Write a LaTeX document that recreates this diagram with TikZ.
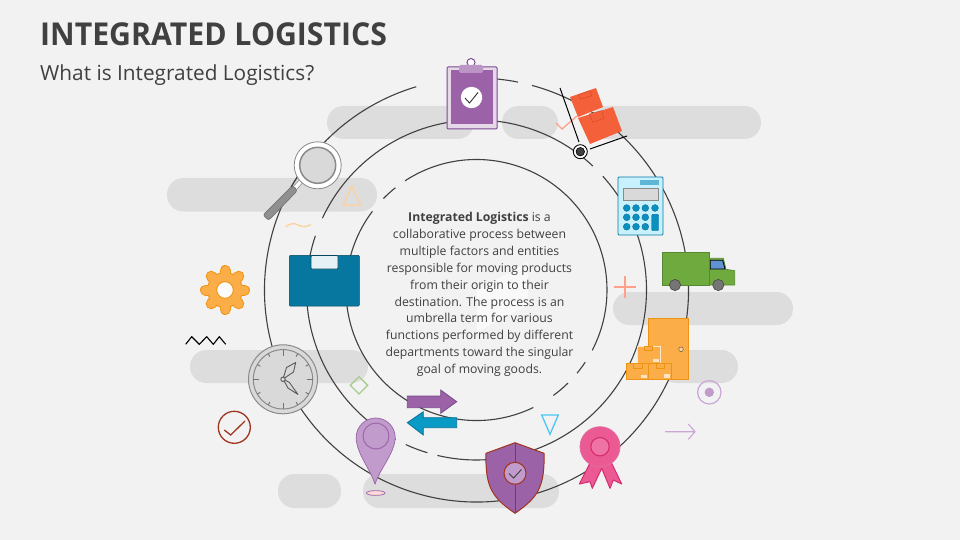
\documentclass[tikz,border=0pt]{standalone}
\usepackage{fontspec}
\setmainfont{Open Sans}
\newfontfamily\ttlfont[FakeStretch=0.96]{Open Sans}
\definecolor{bgc}{HTML}{F2F2F2}
\definecolor{pill}{HTML}{DDDDDD}
\definecolor{ringc}{HTML}{404040}
\definecolor{txt}{HTML}{404040}
\definecolor{purp}{HTML}{9B62A8}
\definecolor{purpd}{HTML}{7B4A8F}
\definecolor{lilac}{HTML}{C09BCB}
\definecolor{lilacl}{HTML}{C9A6D6}
\definecolor{salmon}{HTML}{FFA08A}
\definecolor{red1}{HTML}{F4603A}
\definecolor{red2}{HTML}{D84A2B}
\definecolor{calcbg}{HTML}{C8F0FD}
\definecolor{calcd}{HTML}{0A8FC0}
\definecolor{green1}{HTML}{6FAA3F}
\definecolor{green2}{HTML}{568A32}
\definecolor{orange1}{HTML}{FBAE47}
\definecolor{orange2}{HTML}{EE9414}
\definecolor{pale}{HTML}{FBD29F}
\definecolor{pink1}{HTML}{EC5A94}
\definecolor{pink2}{HTML}{D42C72}
\definecolor{brownr}{HTML}{A0341E}
\definecolor{teal1}{HTML}{07779F}
\definecolor{grey1}{HTML}{D9D9D9}
\definecolor{grey2}{HTML}{8A8A8A}
\tikzset{
  ring/.style={draw=ringc,line width=1.1pt},
  pillbox/.style={fill=pill,rounded corners=16.5pt},
  deco/.style={line width=1.3pt,line join=miter,fill=none},
  btn/.style={fill=calcd,draw=calcd!80!black,line width=.4pt},
}
\newcommand{\darc}[3]{\draw[ring] ([shift={(476.5,290)}]#2:#1) arc[start angle=#2,end angle=#3,radius=#1];}
\begin{document}
\begin{tikzpicture}[x=1pt,y=-1pt,line cap=butt]
\useasboundingbox (0,0) rectangle (960,540);
\fill[bgc] (0,0) rectangle (960,540);
% pills
\fill[pillbox] (327,106) rectangle (474,139);
\fill[pillbox] (502,106) rectangle (558,139);
\fill[pillbox] (590,106) rectangle (761,139);
\fill[pillbox] (167,178) rectangle (377,211.5);
\fill[pillbox] (613,292) rectangle (793,325);
\fill[pillbox] (190,350) rectangle (368,383);
\fill[pillbox] (660,350) rectangle (738,383);
\fill[pillbox] (278,474) rectangle (341,508);
\fill[pillbox] (363,474) rectangle (559,508);
% watermark
\fill[white,opacity=.55] (477,290) -- (528,262) -- (528,305) -- (477,332) -- cycle;
% rings
\darc{212}{285.15}{613.5}
\darc{212}{262}{281.3}
\darc{170}{-42}{103.3}
\darc{170}{106.8}{114.6}
\darc{170}{118.4}{198.6}
\darc{170}{205}{313.2}
\darc{130.5}{236.8}{387.5}
\darc{130.5}{33.6}{39.6}
\darc{130.5}{45.5}{53.9}
\darc{130.5}{64.2}{217.1}
\darc{130.5}{224.5}{231.6}
% titles
\node[anchor=base west,inner sep=0pt,text=txt,font=\fontsize{31.5}{36}\ttlfont\bfseries] (title) at (40,45.5) {INTEGRATED LOGISTICS};
\node[anchor=base west,inner sep=0pt,text=txt,font=\fontsize{20.8}{24}\selectfont] (subtitle) at (40,80.5) {What is Integrated Logistics?};
\node[anchor=north,inner sep=0pt,align=center,text=txt,font=\fontsize{12.25}{16.9}\selectfont] (body) at (479.5,212)
{\textbf{Integrated Logistics} is a\\collaborative process between\\multiple factors and entities\\responsible for moving products\\from their origin to their\\destination. The process is an\\umbrella term for various\\functions performed by different\\departments toward the singular\\goal of moving goods.};
% clipboard
\draw[purpd,line width=1pt,fill=white] (471,62.5) circle (4);
\draw[purpd,line width=1pt,fill=purp!25!white,rounded corners=1pt] (447,67) rectangle (497,129);
\fill[purp] (451,70) rectangle (493,124);
\fill[lilac!90!purp,rounded corners=2pt] (459,65) rectangle (483,73);
\fill[white] (471.5,97.5) circle (10.7);
\draw[black!80,line width=.9pt] (465,98) -- (469.5,103) -- (478,92.5);
% hand trolley and boxes
\draw[deco,salmon] (556,123) -- (562,129) -- (577,116);
\fill[red1] (570,97) -- (596,88) -- (603,107) -- (578,117) -- cycle;
\fill[red1] (578,118) -- (613,107) -- (622,131) -- (590,144) -- cycle;
\draw[red2,line width=.5pt] (578.3,95) -- (590,90.7) -- (591.7,95.7) -- (580.7,99.3) -- cycle;
\draw[red2,line width=.5pt] (589.3,114) -- (601.7,110.7) -- (604,118.3) -- (592.7,122.3) -- cycle;
\draw[black,line width=1pt] (560,88) -- (579,142);
\draw[black,line width=1pt] (590,149) -- (627,136);
\node[circle,draw=black,fill=white,line width=.9pt,minimum size=14pt,inner sep=0pt] (wheelo) at (580.3,151.7) {};
\node[circle,draw=black,fill=ringc,line width=.6pt,minimum size=8.5pt,inner sep=0pt] (wheeli) at (580.3,151.7) {};
% calculator
\draw[calcd!85!black,fill=calcbg,line width=.9pt,rounded corners=1pt] (618,177) rectangle (663,235);
\fill[calcd!65!white] (640,180.5) rectangle (658.5,184.5);
\draw[grey2,fill=grey1,line width=.9pt] (623,188) rectangle (658.5,200);
\foreach \cx/\cy in {626.7/208,636/208,645.3/208,655/208,626.7/217.3,636/217.3,645.3/217.3,626.7/226.7,636/226.7,645.3/226.7}
  \fill[btn] (\cx,\cy) circle (3.4);
\draw[btn,rounded corners=1pt] (651.7,214.3) rectangle (658.7,230.7);
% truck
\draw[green2,fill=green1,line width=.7pt] (709,258.3) -- (723.3,258.3) -- (726,269.3) -- (734.7,270.7) -- (734.7,285) -- (709,285) -- cycle;
\draw[black,fill=cyan!50!blue!65!white,line width=.8pt] (710.3,260.3) -- (722.7,260.3) -- (725,269) -- (710.3,269) -- cycle;
\draw[green2,fill=green1,line width=.7pt] (662.3,252.3) rectangle (709,285);
\draw[black!70,fill=grey2!85!black,line width=.7pt] (675,285) circle (5.6);
\draw[black!70,fill=grey2!85!black,line width=.7pt] (718.3,285) circle (5.6);
% plus
\draw[salmon,line width=1.4pt] (614,287) -- (636,287) (625,276) -- (625,298);
% orange boxes
\draw[orange2,fill=orange1,line width=1pt] (648.3,318.3) rectangle (688.3,379.3);
\draw[ringc!70!orange2,fill=pale,line width=.5pt] (681,349.3) circle (2.3);
\draw[white!70!orange1,fill=orange1,line width=.7pt] (637.3,346) rectangle (660.7,363.3);
\draw[orange2,line width=.6pt] (644,346) rectangle (652.5,350.5);
\fill[pale!60!white] (652.5,358.5) rectangle (658.5,361.5);
\draw[orange2,fill=orange1,line width=1pt] (626.7,363.3) rectangle (649.3,379.3);
\draw[orange2,fill=orange1,line width=1pt] (648.7,363.3) rectangle (671.7,379.3);
\draw[orange2,line width=.6pt] (633.5,363.3) rectangle (642,367.8);
\draw[orange2,line width=.6pt] (656,363.3) rectangle (664.5,367.8);
\fill[pale!60!white] (641,374.5) rectangle (646.5,378);
\fill[pale!60!white] (663.5,374) rectangle (669.5,377.5);
% lilac target and arrow
\draw[lilacl,line width=1.2pt] (709.3,392.3) circle (11.7);
\fill[lilac] (709.3,392.3) circle (4.7);
\draw[lilacl,line width=1.1pt] (665,431.7) -- (695,431.7) (688.3,424) -- (695,431.7) -- (688.3,439.3);
% ribbon
\draw[pink2,fill=pink1,line width=1pt,line join=round] (590,463) -- (579.3,484) -- (590,481.7) -- (592.3,488.3) -- (601.7,468.3) -- (610,488.3) -- (613.3,480) -- (621.7,484) -- (611.7,463.3) -- cycle;
\draw[pink2!70!white,fill=pink1,line width=.8pt] (600,446.7) circle (20);
\draw[pink2,fill=pink1!85!white,line width=1.1pt] (600,446.7) circle (9.2);
% triangle
\draw[deco,cyan!70!white] (541.7,415) -- (558.3,415) -- (550,434.3) -- cycle;
% shield
\draw[brownr,fill=purp,line width=1pt,line join=round] (515,442.7) -- (544,453.3) .. controls (545,488) and (537,498) .. (515,513.3) .. controls (493,498) and (485,488) .. (486,453.3) -- cycle;
\draw[brownr,line width=.9pt] (515,442.7) -- (515,462) (515,485) -- (515,513.3);
\draw[brownr,fill=lilac,line width=1pt] (515,473.3) circle (11);
\draw[black!75,line width=.9pt] (509,473.5) -- (513.5,478) -- (521.5,469.5);
% pin
\draw[purp,fill=lilac,line width=.7pt,line join=round] (375,484.3) .. controls (371,470) and (356,453) .. (356.2,437.5) arc[start angle=180,end angle=360,radius=19.5] .. controls (395,453) and (379,470) .. (375,484.3) -- cycle;
\draw[purp,line width=.9pt] (376,436) circle (13);
\draw[purp,fill=pink!60!white,line width=.7pt] (375.7,493) ellipse (9.3 and 2.4);
% check circle
\draw[brownr,line width=1.3pt] (234.3,427.3) circle (16);
\draw[brownr,line width=1.3pt] (224.3,430) -- (230.7,435) -- (245,421);
% clock
\draw[grey2,fill=grey1,line width=1pt] (283,379.3) circle (34.5);
\draw[grey2,line width=1pt] (283,379.3) circle (29.7);
\foreach \ang/\len in {0/6,30/3.5,60/3.5,90/6,120/3.5,150/3.5,180/6,210/3.5,240/3.5,270/6,300/3.5,330/3.5}
  \draw[black!55,line width=.9pt] ([shift={(283,379.3)}]\ang:29.7) -- ([shift={(283,379.3)}]\ang:{29.7-\len});
\fill[white] (284,381) -- (291,383) -- (299,396.5) -- (293,391) -- cycle;
\draw[black!65,fill=grey1,line width=.9pt,line join=round] (283,379) -- (286.5,367.5) -- (295.7,362.5) -- (293.5,372) -- cycle;
\draw[black!65,fill=grey1,line width=.9pt,line join=round] (283,379) -- (289.5,382.5) -- (298,394.5) -- (288,388) -- cycle;
\draw[black!65,fill=grey1,line width=.9pt] (283,379.3) circle (2.2);
% blue arrows
\draw[purpd,fill=purp,line width=.8pt,line join=miter] (407.3,396) -- (440.7,396) -- (440.7,390) -- (456.7,401.7) -- (440.7,413.3) -- (440.7,407.7) -- (407.3,407.7) -- cycle;
\draw[calcd!80!black,fill=calcd!90!cyan,line width=.8pt,line join=miter] (407.3,422.7) -- (423.3,411.7) -- (423.3,417.7) -- (456.7,417.7) -- (456.7,427.7) -- (423.3,427.7) -- (423.3,435) -- cycle;
% teal box
\fill[teal1,rounded corners=1pt] (289.3,255.3) rectangle (359.3,306);
\draw[teal1!60!black,line width=.5pt,rounded corners=1pt] (289.3,255.3) rectangle (359.3,306);
\draw[teal1!60!black,line width=.7pt,fill=white!90!teal1,rounded corners=1pt] (311,255.5) -- (311,269) -- (338,269) -- (338,255.5) -- cycle;
% triangle and tilde
\draw[deco,pale] (351.7,185.7) -- (343.3,205.3) -- (360.7,205.3) -- cycle;
\draw[pale,line width=1.3pt] (285.7,226.7) .. controls (290,223) and (295,223) .. (298,225) .. controls (302,227.5) and (307,227) .. (311,224.5);
% magnifier
\draw[ringc,line width=.8pt] (297.5,177) -- (291,187);
\draw[grey2,line width=5pt] (303,179) -- (295,188);
\draw[white,line width=3.5pt] (303,179) -- (295,188);
\draw[black!55,fill=grey2!95!white,line width=.7pt,rounded corners=2.5pt] (292.7,185.5) -- (297.5,190.5) -- (268.5,220.5) -- (263,215) -- cycle;
\draw[grey2,fill=white,line width=.8pt] (317.7,165.3) circle (23.5);
\draw[grey2,fill=grey1,line width=1.5pt] (317.7,165.3) circle (18);
% gear
\foreach \ang in {0,45,...,315}
  \draw[orange2,line width=11pt,line cap=round] (225,290) -- ([shift={(225,290)}]\ang:19.5);
\fill[orange2] (225,290) circle (18);
\foreach \ang in {0,45,...,315}
  \draw[orange1,line width=9pt,line cap=round] (225,290) -- ([shift={(225,290)}]\ang:19.5);
\fill[orange1] (225,290) circle (17);
\draw[orange2,fill=white!70!bgc,line width=.9pt] (225,290) circle (8.3);
% zigzag and diamond
\draw[black,line width=1.1pt] (185.7,344.3) -- (191.7,336.7) -- (199.3,344.3) -- (206.7,336.7) -- (213.3,344.3) -- (219.3,336.7) -- (225.7,344.3);
\draw[deco,draw=green1!60!white] (359,376.7) -- (367.7,385.3) -- (359,394) -- (350.3,385.3) -- cycle;
\end{tikzpicture}
\end{document}
